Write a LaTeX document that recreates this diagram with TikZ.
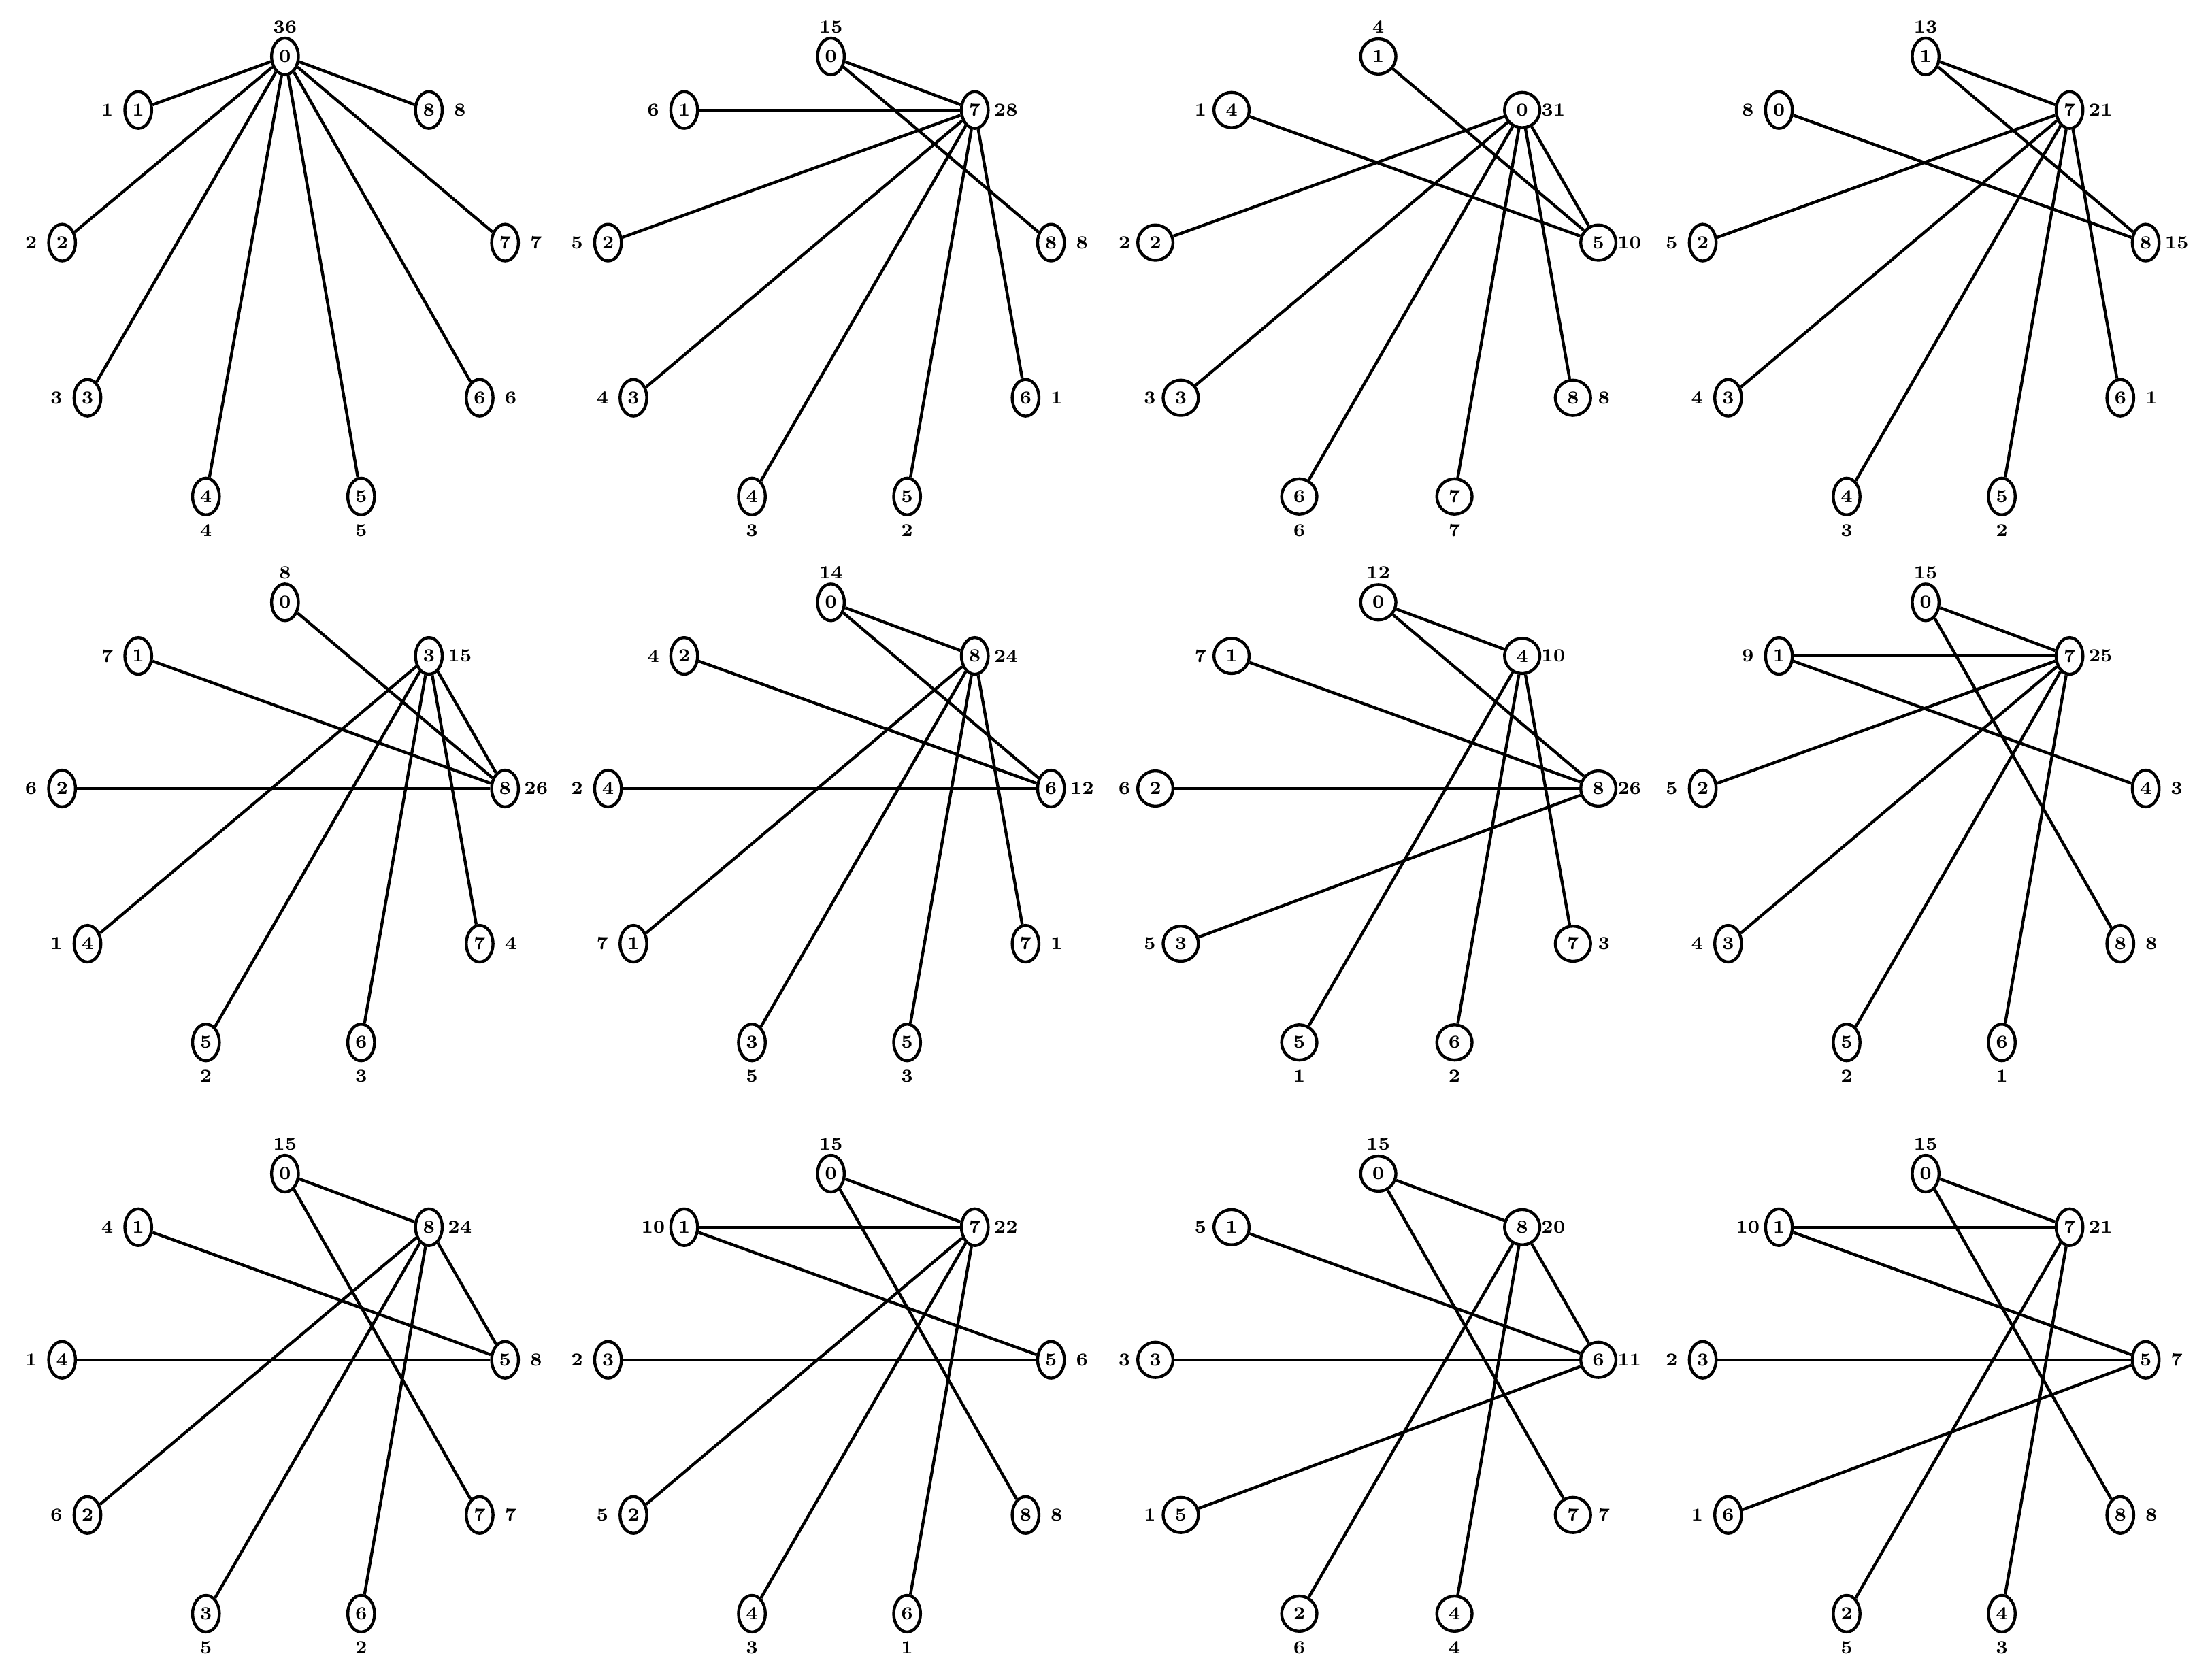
\documentclass[tikz,border=0pt]{standalone}
\usetikzlibrary{shapes.geometric}
\begin{document}
\begin{tikzpicture}[x=0.5pt,y=-0.5pt,
  vtx/.style={draw,line width=1.05pt,fill=white,ellipse,inner sep=0pt,minimum width=9.5pt,minimum height=13pt,font=\bfseries\fontsize{6.5}{7}\selectfont},
  vtxr/.style={draw,line width=1.05pt,fill=white,circle,inner sep=0pt,minimum size=12.5pt,font=\bfseries\fontsize{6.5}{7}\selectfont},
  lab/.style={inner sep=0pt,font=\bfseries\fontsize{6.5}{7}\selectfont},
  edge/.style={line width=1.05pt}]
\useasboundingbox (0,0) rectangle (1568,1187);
\def\sx{{202,98,44,62,146,256,340,358,304}}
\def\sy{{40,78,172,282,352,352,282,172,78}}
\def\lx{{0,-22,-22,-22,0,0,22,22,22}}
\def\ly{{-21,0,0,0,24,24,0,0,0}}
\newcommand\gpanel[6]{%
  \foreach[count=\i from 0] \nm/\lb in {#5}{
    \pgfmathsetmacro\X{#2+\sx[\i]}
    \pgfmathsetmacro\Y{#3+\sy[\i]}
    \pgfmathsetmacro\LX{\X+\lx[\i]}
    \pgfmathsetmacro\LY{\Y+\ly[\i]}
    \node[#4] (p#1s\i) at (\X,\Y) {\nm};
    \node[lab] (p#1l\i) at (\LX,\LY) {\lb};
  }
  \foreach \a/\b in {#6}{\draw[edge] (p#1s\a) -- (p#1s\b);}
}
\gpanel{1}{0}{0}{vtx}{0/36,1/1,2/2,3/3,4/4,5/5,6/6,7/7,8/8}{0/1,0/2,0/3,0/4,0/5,0/6,0/7,0/8}
\gpanel{2}{387}{0}{vtx}{0/15,1/6,2/5,3/4,4/3,5/2,6/1,8/8,7/28}{8/0,8/1,8/2,8/3,8/4,8/5,8/6,0/7}
\gpanel{3}{775}{0}{vtxr}{1/4,4/1,2/2,3/3,6/6,7/7,8/8,5/10,0/31}{8/2,8/3,8/4,8/5,8/6,8/7,0/7,1/7}
\gpanel{4}{1163}{0}{vtx}{1/13,0/8,2/5,3/4,4/3,5/2,6/1,8/15,7/21}{8/0,8/2,8/3,8/4,8/5,8/6,0/7,1/7}
\gpanel{5}{0}{387}{vtx}{0/8,1/7,2/6,4/1,5/2,6/3,7/4,8/26,3/15}{0/7,1/7,2/7,8/7,8/3,8/4,8/5,8/6}
\gpanel{6}{387}{387}{vtx}{0/14,2/4,4/2,1/7,3/5,5/3,7/1,6/12,8/24}{0/8,0/7,1/7,2/7,8/3,8/4,8/5,8/6}
\gpanel{7}{775}{387}{vtxr}{0/12,1/7,2/6,3/5,5/1,6/2,7/3,8/26,4/10}{0/8,0/7,1/7,2/7,3/7,8/4,8/5,8/6}
\gpanel{8}{1163}{387}{vtx}{0/15,1/9,2/5,3/4,5/2,6/1,8/8,4/3,7/25}{0/8,0/6,1/8,1/7,8/2,8/3,8/4,8/5}
\gpanel{9}{0}{792}{vtx}{0/15,1/4,4/1,2/6,3/5,6/2,7/7,5/8,8/24}{0/8,0/6,1/7,2/7,8/3,8/4,8/5,8/7}
\gpanel{10}{387}{792}{vtx}{0/15,1/10,3/2,2/5,4/3,6/1,8/8,5/6,7/22}{0/8,0/6,1/8,1/7,2/7,8/3,8/4,8/5}
\gpanel{11}{775}{792}{vtxr}{0/15,1/5,3/3,5/1,2/6,4/4,7/7,6/11,8/20}{0/8,0/6,1/7,2/7,3/7,8/7,8/4,8/5}
\gpanel{12}{1163}{792}{vtx}{0/15,1/10,3/2,6/1,2/5,4/3,8/8,5/7,7/21}{0/8,0/6,1/8,1/7,2/7,3/7,8/4,8/5}
\end{tikzpicture}
\end{document}
